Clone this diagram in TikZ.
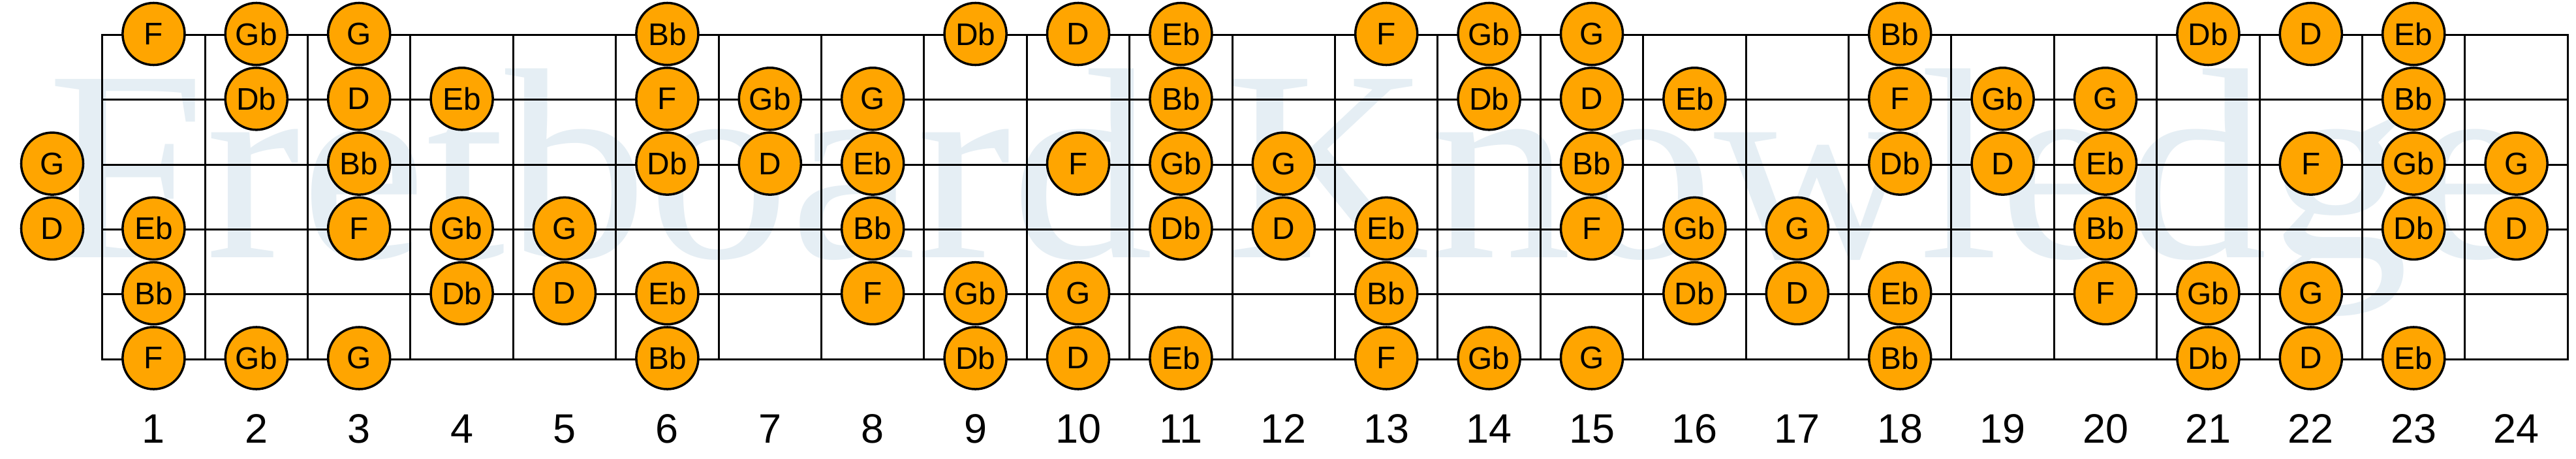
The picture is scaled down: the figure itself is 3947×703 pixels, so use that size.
\documentclass[tikz,border=0pt]{standalone}
\usepackage{fontspec}
\setmainfont{Liberation Sans}
\newfontfamily\wmfont{Liberation Serif}
\definecolor{noteorange}{RGB}{255,165,0}
\definecolor{wmblue}{RGB}{229,238,244}
\newcommand\myNoteName[1]{\ifcase#1 C\or Db\or D\or Eb\or E\or F\or Gb\or G\or Ab\or A\or Bb\or B\fi}
\tikzset{
  stringline/.style={line width=0.85pt, black, line cap=rect},
  fretline/.style={line width=0.85pt, black, line cap=rect},
  note/.style={circle, draw=black, line width=1pt, fill=noteorange, minimum size=0.95cm, inner sep=0pt, font=\fontsize{13.6}{14}\selectfont},
  fretnum/.style={inner sep=0pt, font=\fontsize{17.9}{20}\selectfont},
  watermark/.style={anchor=base west, inner sep=0pt, text=wmblue, font=\wmfont\fontsize{118.6}{120}\selectfont}
}
\begin{document}
\begin{tikzpicture}[x=0.01cm,y=-0.01cm]
\useasboundingbox (0,0) rectangle (3947,703);
\fill[white] (0,0) rectangle (3947,703);
\node[watermark] (wm) at (72,394) {\scalebox{1.045}[1]{Fretboard Knowledge}};
\foreach \i in {0,...,5} {
  \pgfmathsetmacro\sy{53.5+99.3*\i}
  \coordinate (s\i a) at (156.7,\sy);
  \coordinate (s\i b) at (3934.3,\sy);
  \draw[stringline] (s\i a) -- (s\i b);
}
\foreach \k in {0,...,24} {
  \pgfmathsetmacro\fx{156.7+157.4*\k}
  \coordinate (f\k t) at (\fx,53.5);
  \coordinate (f\k b) at (\fx,550);
  \draw[fretline] (f\k t) -- (f\k b);
}
\foreach \i/\o in {0/4,1/11,2/7,3/2,4/9,5/4} {
  \foreach \k in {0,...,24} {
    \pgfmathtruncatemacro\p{mod(\o+\k,12)}
    \pgfmathtruncatemacro\fl{{0,1,1,1,0,1,1,1,0,0,1,0}[\p]}
    \ifnum\fl=1
      \pgfmathsetmacro\nx{\k==0 ? 80 : 78+157.4*\k}
      \pgfmathsetmacro\ny{52+99.3*\i}
      \node[note] (n\i-\k) at (\nx,\ny) {\myNoteName{\p}};
    \fi
  }
}
\foreach \k in {1,...,24} {
  \node[fretnum] (num\k) at ({78+157.4*\k},657) {\k};
}
\end{tikzpicture}
\end{document}
